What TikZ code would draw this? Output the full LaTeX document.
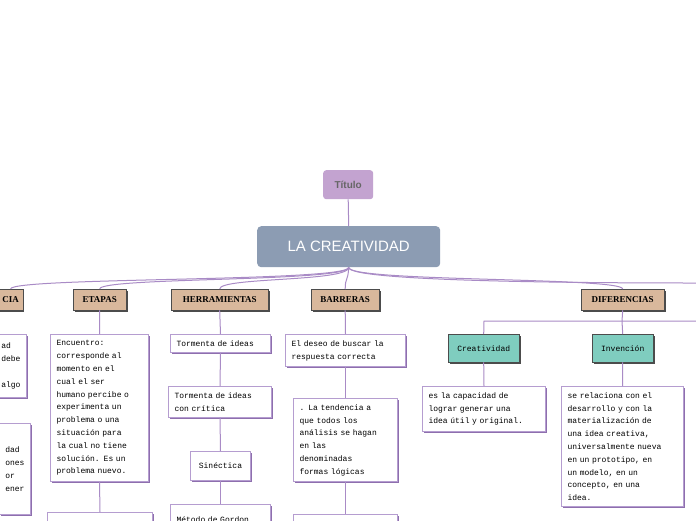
\documentclass[tikz,border=0pt]{standalone}
\usepackage{fontspec}
\setmainfont{Liberation Serif}
\newfontfamily\monof{Liberation Mono}
\newfontfamily\sansf{Liberation Sans}
\usetikzlibrary{shadows,calc}
\definecolor{lin}{HTML}{A98BC6}
\definecolor{bord}{HTML}{B59DD0}
\definecolor{shad}{HTML}{8E6FAE}
\definecolor{tan}{HTML}{D9B89C}
\definecolor{teal}{HTML}{7FCDBF}
\definecolor{tit}{HTML}{C3A3D0}
\definecolor{main}{HTML}{8C9CB3}
\tikzset{x=1pt,y=-1pt,
 conn/.style={draw=lin,line width=1pt},
 leaf/.style={draw=bord,fill=white,line width=1pt,anchor=north west,align=left,inner xsep=6pt,inner ysep=6pt,
   font=\monof\fontsize{8}{12.8}\selectfont,drop shadow={fill=shad,shadow xshift=1.5pt,shadow yshift=-1.5pt,opacity=1}},
 head/.style={draw=black!70,fill=tan,anchor=north west,inner xsep=4pt,minimum height=21pt,
   font=\bfseries\fontsize{9}{10}\selectfont,drop shadow={fill=black!70,shadow xshift=1.5pt,shadow yshift=-1.5pt,opacity=1}},
 sub/.style={draw=black!70,fill=teal,anchor=north west,minimum height=28pt,inner xsep=8pt,
   font=\monof\fontsize{8}{9}\selectfont,drop shadow={fill=black!70,shadow xshift=1.5pt,shadow yshift=-1.5pt,opacity=1}}}
\begin{document}
\begin{tikzpicture}
\useasboundingbox[fill=white] (0,0) rectangle (696,520);
\clip (0,0) rectangle (696,520);
\node[fill=tit,rounded corners=3pt,minimum width=50pt,minimum height=29pt,anchor=north west,text=black!60,font=\sansf\bfseries\fontsize{10}{11}\selectfont] (t) at (323,170) {Título};
\node[fill=main,rounded corners=4pt,minimum width=183pt,minimum height=41pt,anchor=north west,text=white,font=\sansf\fontsize{15}{17}\selectfont] (m) at (257,226) {LA CREATIVIDAD};
\draw[conn] (t.south) -- (m.north);
% headers
\node[head,anchor=north east] (h0) at (23,289) {CIA};
\node[head,minimum width=53pt] (h1) at (73,289) {ETAPAS};
\node[head,minimum width=97pt] (h2) at (171,289) {HERRAMIENTAS};
\node[head,minimum width=68pt] (h3) at (311,289) {BARRERAS};
\node[head,minimum width=83pt] (h4) at (581,289) {DIFERENCIAS};
\coordinate (r) at (696,283);
\foreach \h in {h0,h1,h2,h3,h4} \draw[conn] (m.south) .. controls (348,282) and ($(\h.north)+(0,-12)$) .. (\h.north);
\draw[conn] (m.south) .. controls (348,282) and (600,283) .. (r);
% left
\node[leaf,anchor=north east,minimum height=63pt] (l1) at (27,334) {ad\\debe\\\\algo};
\node[leaf,anchor=north east,minimum height=91pt] (l2) at (31,423) {dad\\ones\\or\\ener};
% etapas
\node[leaf,text width=86pt] (e1) at (50,334) {Encuentro:\\corresponde al\\momento en el\\cual el ser\\humano percibe o\\experimenta un\\problema o una\\situación para\\la cual no tiene\\solución. Es un\\problema nuevo.};
\node[leaf,minimum width=105pt,minimum height=20pt] (e2) at (47,512) {};
\draw[conn] (h1.south) -- (e1.north);
\draw[conn] (e1.south) -- (e2.north);
% herramientas
\node[leaf,text width=88pt] (r1) at (170,334) {Tormenta de ideas};
\node[leaf,text width=91pt] (r2) at (168,386) {Tormenta de ideas\\con crítica};
\node[leaf,minimum width=60pt,minimum height=29pt] (r3) at (190,451) {Sinéctica};
\node[leaf,text width=88pt,minimum height=30pt] (r4) at (170,504) {Método de Gordon\\};
\draw[conn] (h2.south) -- (r1.north);
\draw[conn] (r1.south) -- (r2.north);
\draw[conn] (r2.south) -- (r3.north);
\draw[conn] (r3.south) -- (r4.north);
% barreras
\node[leaf,text width=108pt] (b1) at (285,334) {El deseo de buscar la\\respuesta correcta};
\node[leaf,text width=92pt] (b2) at (293,398) {. La tendencia a\\que todos los\\análisis se hagan\\en las\\denominadas\\formas lógicas};
\node[leaf,minimum width=104pt,minimum height=20pt] (b3) at (293,514) {};
\draw[conn] (h3.south) -- (b1.north);
\draw[conn] (b1.south) -- (b2.north);
\draw[conn] (b2.south) -- (b3.north);
% diferencias
\node[sub,minimum width=71pt] (d1) at (448,334) {Creatividad};
\node[sub,minimum width=61pt] (d2) at (592,334) {Invención};
\coordinate (j) at (622,321);
\coordinate (jl) at (484,321);
\coordinate (jr) at (696,321);
\draw[conn] (h4.south) -- (j);
\draw[conn] (d1.north) -- (jl) -- (jr);
\draw[conn] (j) -- (d2.north);
\node[leaf,text width=111pt] (c1) at (422,386) {es la capacidad de\\lograr generar una\\idea útil y original.};
\node[leaf,text width=110pt] (c2) at (561,386) {se relaciona con el\\desarrollo y con la\\materialización de\\una idea creativa,\\universalmente nueva\\en un prototipo, en\\un modelo, en un\\concepto, en una\\idea.};
\draw[conn] (d1.south) -- (c1.north);
\draw[conn] (d2.south) -- (c2.north);
\end{tikzpicture}
\end{document}
